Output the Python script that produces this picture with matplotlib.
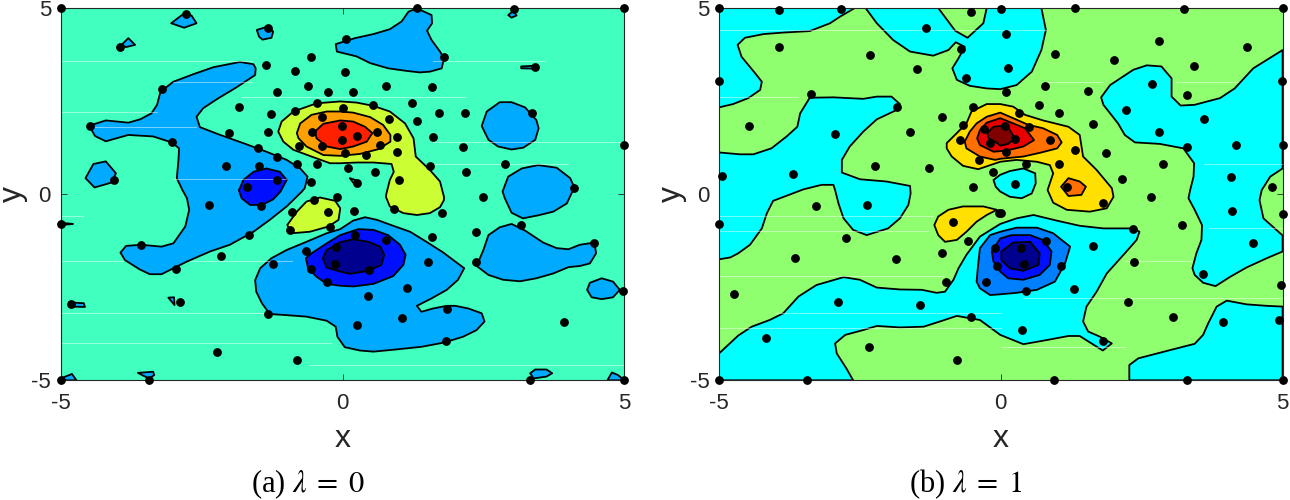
import matplotlib
matplotlib.use("Agg")
import matplotlib.pyplot as plt

# --- SETTINGS ---
plt.rcParams['font.family'] = ['Liberation Sans', 'DejaVu Sans']
plt.rcParams['mathtext.fontset'] = 'stix'
plt.rcParams['axes.unicode_minus'] = False

TICKS = [-5, 0, 5]
CAPTION_A = r"(a) $\lambda\;=\;0$"
CAPTION_B = r"(b) $\lambda\;=\;1$"

# --- PANEL (a): sample points ---
points_a = [
    (-5, 5), (-2.78, 4.84), (-1.33, 4.46), (-3.94, 3.94), (-0.56, 3.69), (-1.35, 3.47), (-0.84, 3.30),
    (-0.61, 2.91), (-1.16, 2.74), (-0.25, 2.74), (-3.20, 2.82), (-0.45, 2.44), (-1.84, 2.34), (-0.85, 2.23),
    (-1.27, 2.14), (-0.36, 2.06), (-4.48, 1.83), (-1.32, 1.66), (-2.01, 1.63), (-0.54, 1.66), (-3.03, 1.39),
    (-0.78, 1.28), (-0.36, 1.28), (-1.50, 1.23), (-1.16, 1.01), (-0.81, 0.81), (-0.45, 0.81), (-2.06, 0.75),
    (-1.49, 0.75), (-0.56, 0.32), (-1.16, 0.37), (-4.05, 0.37), (-1.69, 0.19), (-0.09, -0.07), (-0.50, -0.16),
    (-2.37, -0.28), (-1.44, -0.33), (-0.90, -0.47), (-0.25, -0.47), (-4.99, -0.80), (-0.93, -0.97),
    (-0.22, -0.88), (-1.66, -1.11), (-3.57, -1.36), (-0.11, -1.43), (-0.65, -1.54), (-2.15, -1.66),
    (-1.24, -1.87), (-0.13, -1.87), (-2.95, -2.01), (-0.56, -2.02), (-0.28, -2.36), (-2.89, -2.91),
    (-4.82, -2.96), (-1.33, -3.22), (-2.23, -4.25), (-0.80, -4.46), (-5, -5), (-3.43, -5),
    (1.32, 5), (3.05, 4.98), (5, 5), (0.06, 4.16), (1.80, 3.69), (3.42, 3.42), (0.04, 3.27), (0.78, 2.91),
    (1.58, 2.87), (0.18, 2.74), (1.23, 2.44), (0.55, 2.39), (0.01, 2.31), (1.71, 2.17), (2.17, 2.17),
    (3.36, 2.17), (0.83, 2.01), (1.32, 1.96), (-0.01, 1.83), (0.61, 1.66), (0.26, 1.57), (1.61, 1.53),
    (0.97, 1.53), (-0.01, 1.45), (0.67, 1.31), (2.14, 1.27), (5, 1.31), (0.04, 1.11), (0.97, 1.13),
    (0.41, 1.06), (1.56, 0.76), (2.88, 0.80), (0.09, 0.71), (0.58, 0.59), (2.20, 0.59), (0.26, 0.29),
    (1.00, 0.37), (4.10, 0.16), (2.50, -0.07), (0.20, -0.46), (0.92, -0.41), (1.77, -0.50), (3.17, -0.83),
    (2.36, -1.02), (0.23, -1.10), (0.78, -1.23), (1.58, -1.14), (4.47, -1.32), (1.52, -1.83), (2.36, -1.83),
    (0.47, -2.05), (1.15, -2.53), (4.98, -2.61), (0.46, -2.74), (1.85, -3.08), (1.06, -3.34), (0.26, -3.51),
    (3.93, -3.43), (1.83, -3.95), (3.33, -4.98), (5, -5),
]

# --- PANEL (a): contour regions, level by level ---
a_level1 = [
    [(-4.45, 1.86), (-4.20, 1.98), (-3.80, 1.92), (-3.59, 2.01), (-3.39, 2.17), (-3.29, 2.40), (-3.23, 2.75),
     (-3.00, 3.02), (-2.65, 3.22), (-2.29, 3.41), (-1.82, 3.55), (-1.58, 3.49), (-1.54, 3.38), (-1.55, 3.20),
     (-1.88, 2.87), (-2.23, 2.55), (-2.47, 2.31), (-2.59, 2.08), (-2.53, 1.80), (-2.17, 1.59), (-1.76, 1.37),
     (-1.35, 1.14), (-0.99, 0.92), (-0.75, 0.69), (-0.62, 0.47), (-0.67, 0.16), (-0.72, 0.07), (-0.99, -0.33),
     (-1.29, -0.69), (-1.58, -1.01), (-2.00, -1.36), (-2.35, -1.54), (-2.76, -1.81), (-3.21, -2.15),
     (-3.42, -2.15), (-3.60, -2.02), (-3.86, -1.77), (-3.94, -1.57), (-3.84, -1.39), (-3.57, -1.36),
     (-3.21, -1.41), (-3.00, -1.32), (-2.79, -0.87), (-2.72, -0.42), (-2.76, -0.11), (-2.84, 0.11),
     (-2.94, 0.43), (-2.91, 0.92), (-2.90, 1.23), (-3.03, 1.39), (-3.36, 1.55), (-3.80, 1.59), (-4.20, 1.42),
     (-4.39, 1.56), (-4.45, 1.72)],
    [(-4.56, 0.43), (-4.42, 0.81), (-4.20, 0.88), (-4.02, 0.56), (-4.10, 0.31), (-4.40, 0.18)],
    [(-3.04, 4.59), (-2.85, 4.81), (-2.68, 4.80), (-2.59, 4.59), (-2.81, 4.47)],
    [(-1.52, 4.41), (-1.33, 4.50), (-1.23, 4.37), (-1.26, 4.20), (-1.42, 4.15), (-1.48, 4.23)],
    [(-3.92, 4.01), (-3.80, 4.19), (-3.68, 4.01), (-3.84, 3.95)],
    [(-0.12, 4.03), (0.22, 4.19), (0.55, 4.30), (0.84, 4.43), (1.05, 4.64), (1.17, 4.90), (1.32, 4.99),
     (1.58, 4.81), (1.59, 4.59), (1.50, 4.39), (1.58, 4.14), (1.73, 3.83), (1.80, 3.65), (1.76, 3.38),
     (1.55, 3.29), (1.37, 3.27), (1.14, 3.31), (0.81, 3.38), (0.49, 3.52), (0.25, 3.70), (-0.10, 3.83)],
    [(2.94, 4.81), (3.03, 4.92), (3.09, 4.80), (3.00, 4.74)],
    [(3.17, 3.43), (3.42, 3.45), (3.42, 3.37), (3.17, 3.38)],
    [(2.47, 1.83), (2.56, 2.22), (2.79, 2.47), (3.00, 2.47), (3.24, 2.33), (3.44, 1.99), (3.48, 1.77),
     (3.42, 1.46), (3.21, 1.25), (3.00, 1.20), (2.76, 1.28), (2.59, 1.46)],
    [(2.84, 0.07), (2.94, 0.47), (3.18, 0.69), (3.47, 0.78), (3.80, 0.71), (4.04, 0.43), (4.12, 0.16),
     (4.07, 0.04), (3.98, -0.25), (3.74, -0.47), (3.47, -0.57), (3.20, -0.65), (3.00, -0.50), (2.88, -0.11)],
    [(2.38, -1.93), (2.50, -1.50), (2.59, -1.10), (2.79, -0.89), (3.00, -0.80), (3.24, -0.98), (3.56, -1.30),
     (3.80, -1.45), (4.01, -1.48), (4.21, -1.36), (4.47, -1.30), (4.50, -1.59), (4.39, -1.86), (4.21, -1.93),
     (4.01, -1.96), (3.74, -2.13), (3.44, -2.26), (3.15, -2.34), (2.85, -2.30), (2.59, -2.17)],
    [(4.34, -2.57), (4.39, -2.38), (4.60, -2.26), (4.80, -2.35), (4.92, -2.57), (4.80, -2.77), (4.60, -2.82),
     (4.42, -2.77)],
    [(4.70, -5), (4.78, -4.79), (4.89, -4.86), (5, -5)],
    [(3.33, -4.81), (3.42, -4.71), (3.62, -4.71), (3.72, -4.81), (3.62, -4.90), (3.39, -4.95)],
    [(-5, -5), (-5, -4.95), (-4.80, -4.83), (-4.72, -5)],
    [(-3.63, -4.80), (-3.36, -4.77), (-3.34, -4.86), (-3.43, -4.95), (-3.53, -4.88)],
    [(-3.09, -2.78), (-2.99, -2.77), (-2.98, -2.98)],
    [(-4.80, -2.91), (-4.59, -2.93), (-4.57, -3.03), (-4.82, -3.02)],
    [(-4.99, -0.77), (-4.78, -0.80), (-4.99, -0.83)],
    [(0.13, 0.43), (0.31, 0.34), (0.22, 0.25)],
    [(-0.04, -0.94), (0.19, -0.71), (0.40, -0.62), (0.61, -0.69), (0.90, -0.85), (1.20, -1.01), (1.49, -1.28),
     (1.79, -1.57), (2.00, -1.81), (2.16, -1.99), (2.05, -2.30), (1.85, -2.57), (1.58, -2.80), (1.32, -3.00),
     (1.40, -3.16), (1.61, -3.07), (1.85, -3.00), (2.00, -3.00), (2.23, -3.07), (2.47, -3.20), (2.52, -3.42),
     (2.38, -3.65), (2.14, -3.83), (1.79, -3.99), (1.40, -4.10), (0.96, -4.17), (0.55, -4.23), (0.31, -4.20),
     (0.04, -4.11), (-0.09, -3.83), (-0.12, -3.56), (-0.28, -3.40), (-0.64, -3.29), (-0.99, -3.25),
     (-1.29, -3.22), (-1.43, -2.93), (-1.53, -2.62), (-1.55, -2.31), (-1.46, -1.99), (-1.26, -1.72),
     (-0.99, -1.50), (-0.64, -1.28), (-0.28, -1.05)],
]
a_level2 = [
    [(-1.82, 0.16), (-1.76, 0.38), (-1.58, 0.60), (-1.35, 0.69), (-1.11, 0.60), (-0.99, 0.38), (-1.10, 0.07),
     (-1.23, -0.14), (-1.43, -0.29), (-1.64, -0.29), (-1.79, -0.11), (-1.84, 0.11)],
    [(-0.65, -1.72), (-0.61, -1.99), (-0.46, -2.22), (-0.28, -2.41), (-0.04, -2.46), (0.19, -2.48), (0.55, -2.41),
     (0.90, -2.20), (1.08, -1.90), (1.12, -1.63), (1.02, -1.36), (0.81, -1.10), (0.55, -0.96), (0.28, -0.94),
     (-0.04, -1.10), (-0.28, -1.32), (-0.55, -1.59)],
]
a_level3 = [
    [(-0.04, -1.29), (0.19, -1.21), (0.46, -1.28), (0.67, -1.41), (0.74, -1.63), (0.69, -1.90), (0.46, -2.06),
     (0.13, -2.14), (-0.04, -2.08), (-0.28, -1.97), (-0.35, -1.72), (-0.28, -1.50)],
]
a_level5 = [
    [(-1.14, 1.68), (-1.08, 1.95), (-0.87, 2.22), (-0.46, 2.44), (-0.04, 2.49), (0.25, 2.46), (0.55, 2.37),
     (0.84, 2.22), (1.11, 1.90), (1.26, 1.50), (1.30, 1.01), (1.55, 0.65), (1.73, 0.34), (1.80, -0.07),
     (1.80, -0.16), (1.73, -0.35), (1.55, -0.51), (1.32, -0.56), (1.08, -0.51), (0.84, -0.33), (0.77, -0.07),
     (0.78, 0.02), (0.84, 0.38), (0.91, 0.60), (0.87, 0.81), (0.55, 0.85), (0.25, 0.85), (-0.04, 0.83),
     (-0.22, 0.83), (-0.55, 1.01), (-0.87, 1.19), (-1.05, 1.41)],
    [(-0.98, -0.83), (-0.81, -0.47), (-0.64, -0.20), (-0.40, -0.09), (-0.13, -0.18), (-0.04, -0.38), (-0.07, -0.69),
     (-0.25, -0.87), (-0.58, -1.01), (-0.90, -1.05)],
]
a_level6 = [
    [(-0.81, 1.64), (-0.75, 1.90), (-0.55, 2.13), (-0.28, 2.22), (-0.04, 2.22), (0.19, 2.19), (0.49, 2.07),
     (0.72, 1.86), (0.85, 1.59), (0.85, 1.41), (0.64, 1.21), (0.31, 1.08), (-0.04, 1.03), (-0.34, 1.05),
     (-0.64, 1.28), (-0.78, 1.50)],
]
a_level7 = [
    [(-0.49, 1.68), (-0.34, 1.89), (-0.04, 1.98), (0.19, 1.95), (0.40, 1.81), (0.53, 1.64), (0.43, 1.41),
     (0.19, 1.28), (-0.04, 1.21), (-0.28, 1.28), (-0.46, 1.50)],
]
a_colors = ['#00AAFF', '#0010FF', '#00008F', '#CCFF33', '#FF9F00', '#FF2000']
a_background = '#40FFBF'
# faint white streaks in the fills: (y, x start, x end)
a_streaks = [(3.58, -5, -1.6), (3.0, -3.0, -1.6), (2.6, -1.8, 2.2), (2.2, -5, -3.3), (1.8, -4.4, -2.6), (3.58, 1.6, 3.6),
             (1.4, 1.6, 5), (0.8, 1.6, 4.0), (-0.6, -5, -4.6), (-1.8, -5, -3.9), (-3.2, -5, -1.3), (-4.0, -5, -0.2),
             (-4.6, -0.6, 5), (-1.8, -2.7, -0.9), (0.4, -3.0, -1.0)]

# --- PANEL (b): sample points ---
points_b = [
    (-5, 5), (-3.94, 4.94), (-2.83, 4.98), (-0.52, 4.89), (-1.32, 4.46), (-3.94, 3.95), (-2.32, 3.73),
    (-0.70, 3.91), (-1.49, 3.35), (-5, 3.03), (-0.62, 3.12), (-3.37, 2.69), (-1.84, 2.35), (-0.49, 2.34),
    (-1.04, 2.06), (-4.47, 1.83), (-0.67, 1.87), (-0.30, 1.76), (-2.94, 1.62), (-1.61, 1.66), (-0.72, 1.45),
    (-0.19, 1.37), (-0.38, 0.93), (-2.23, 0.75), (-1.27, 0.71), (-0.13, 0.59), (-4.95, 0.50), (-3.68, 0.53),
    (-0.49, 0.19), (0.01, 4.98), (1.32, 5), (3.25, 4.98), (5, 5), (0.10, 4.30), (2.80, 4.12), (4.36, 3.95),
    (0.96, 3.76), (2.01, 3.60), (0.13, 3.38), (3.43, 3.43), (4.99, 3.03), (2.69, 2.95), (0.78, 2.91),
    (0.10, 2.74), (1.54, 2.78), (3.31, 2.65), (0.67, 2.39), (2.23, 2.26), (0.33, 2.17), (1.04, 2.17),
    (3.60, 2.01), (1.64, 1.88), (0.07, 1.83), (0.50, 1.80), (2.80, 1.66), (0.25, 1.48), (0.87, 1.45),
    (4.17, 1.31), (5, 1.31), (3.31, 1.27), (0.10, 1.14), (1.32, 1.18), (1.87, 1.10), (2.88, 0.80),
    (1.04, 0.80), (0.44, 0.80), (4.08, 0.46), (2.15, 0.41), (0.26, 0.28), (1.18, 0.19), (4.82, 0.19),
    (2.66, -0.07), (-3.28, -0.33), (-2.37, -0.28), (-5, -0.80), (-0.84, -0.76), (-0.04, -0.50), (-2.74, -1.19),
    (-0.59, -1.27), (-1.04, -1.58), (-0.10, -1.45), (-3.65, -1.71), (-1.86, -1.75), (-0.06, -1.93),
    (-0.98, -2.36), (-0.27, -2.36), (-4.73, -2.69), (-2.88, -2.91), (-1.44, -2.97), (-0.52, -3.30),
    (-4.16, -3.86), (-2.34, -4.11), (-0.78, -4.46), (-5, -5), (-3.43, -5), (1.81, -0.24), (4.11, -0.46),
    (5, -0.54), (0.01, -0.51), (3.22, -0.84), (2.34, -0.93), (4.47, -1.32), (0.81, -1.27), (1.64, -1.40),
    (0.36, -1.44), (2.37, -1.83), (1.06, -1.93), (0.41, -1.87), (3.59, -2.14), (4.98, -2.43), (1.29, -2.56),
    (0.44, -2.61), (2.26, -2.91), (3.05, -3.30), (3.94, -3.43), (4.93, -3.39), (0.38, -3.65), (1.82, -3.95),
    (0.95, -4.99), (3.31, -4.99), (5, -5),
]

# --- PANEL (b): contour regions, level by level ---
b_cyan = [
    [(-5, 5), (-2.59, 5), (-2.85, 4.77), (-3.03, 4.59), (-3.39, 4.38), (-3.86, 4.34), (-4.21, 4.30), (-4.54, 4.20),
     (-4.67, 4.01), (-4.60, 3.69), (-4.36, 3.25), (-4.24, 3.02), (-4.27, 2.80), (-4.48, 2.58), (-4.75, 2.42),
     (-5, 2.33)],
    [(-2.40, 5), (-2.20, 4.59), (-1.91, 4.14), (-1.61, 3.83), (-1.20, 3.72), (-0.93, 3.87), (-0.80, 4.08),
     (-0.64, 3.96), (-0.75, 3.65), (-0.86, 3.38), (-0.78, 3.07), (-0.55, 2.91), (-0.25, 2.84), (-0.01, 2.82),
     (0.28, 2.93), (0.55, 3.29), (0.72, 3.87), (0.80, 4.41), (0.72, 5)],
    [(-5, 1.12), (-4.63, 1.07), (-4.39, 1.07), (-4.07, 1.23), (-3.80, 1.55), (-3.61, 1.81), (-3.56, 2.17),
     (-3.39, 2.59), (-2.97, 2.60), (-2.44, 2.56), (-2.20, 2.62), (-1.94, 2.62), (-1.79, 2.42), (-1.85, 2.26),
     (-2.20, 2.01), (-2.44, 1.68), (-2.68, 1.28), (-2.82, 0.92), (-2.82, 0.58), (-2.50, 0.40), (-2.03, 0.34),
     (-1.61, 0.22), (-1.60, 0.02), (-1.64, -0.29), (-1.79, -0.65), (-2.00, -0.92), (-2.38, -1.10), (-2.62, -0.96),
     (-2.79, -0.65), (-2.88, -0.25), (-2.94, 0.11), (-2.97, 0.25), (-3.18, 0.25), (-3.50, 0.13), (-4.04, -0.18),
     (-4.15, -0.51), (-4.24, -0.92), (-4.45, -1.36), (-4.66, -1.59), (-4.80, -1.70), (-5, -1.75)],
    [(1.78, 2.60), (1.94, 2.93), (2.35, 3.34), (2.59, 3.46), (2.85, 3.43), (3.03, 3.11), (3.03, 2.62), (3.19, 2.38),
     (3.44, 2.40), (3.89, 2.58), (4.15, 2.84), (4.48, 3.38), (5, 3.87), (5, 0.69), (4.78, 0.47), (4.63, 0.11),
     (4.59, -0.16), (4.66, -0.65), (5, -1.11), (5, -1.54), (4.72, -1.72), (4.36, -1.97), (4.07, -2.22),
     (3.81, -2.47), (3.59, -2.38), (3.44, -2.17), (3.40, -1.99), (3.47, -1.59), (3.56, -1.23), (3.57, -0.83),
     (3.44, -0.42), (3.33, -0.11), (3.36, 0.11), (3.42, 0.47), (3.43, 0.83), (3.24, 1.23), (2.82, 1.35),
     (2.38, 1.39), (2.20, 1.59), (2.08, 1.90), (1.94, 2.17), (1.82, 2.40)],
    [(2.28, -5), (2.28, -4.59), (2.44, -4.41), (3.00, -4.19), (3.44, -4.02), (3.59, -3.78), (3.68, -3.47),
     (3.83, -3.02), (4.01, -2.86), (4.36, -2.96), (4.72, -3.00), (5, -3.02), (5, -5)],
    [(-5, -4.28), (-4.66, -3.80), (-4.42, -3.56), (-4.10, -3.38), (-3.86, -3.20), (-3.59, -2.75), (-3.27, -2.44),
     (-2.79, -2.23), (-2.50, -2.30), (-2.20, -2.51), (-1.79, -2.56), (-1.40, -2.57), (-1.14, -2.65), (-0.99, -2.62),
     (-0.84, -2.30), (-0.75, -1.99), (-0.61, -1.63), (-0.37, -1.14), (-0.01, -0.80), (0.28, -0.65), (0.58, -0.56),
     (0.99, -0.71), (1.40, -0.85), (1.82, -0.92), (2.35, -0.92), (2.46, -1.01), (2.41, -1.23), (2.20, -1.59),
     (1.88, -2.13), (1.70, -2.62), (1.52, -3.02), (1.46, -3.42), (1.55, -3.69), (1.76, -3.83), (1.97, -4.01),
     (1.81, -4.20), (1.40, -3.81), (1.20, -3.81), (0.81, -3.92), (0.40, -4.03), (-0.01, -3.78), (-0.37, -3.38),
     (-0.78, -3.27), (-1.08, -3.42), (-1.37, -3.56), (-1.79, -3.58), (-2.20, -3.54), (-2.44, -3.65), (-2.76, -3.78),
     (-2.94, -4.01), (-2.91, -4.28), (-2.74, -4.68), (-2.62, -5), (-5, -5)],
    [(-0.13, 0.38), (-0.01, 0.52), (0.16, 0.62), (0.40, 0.69), (0.61, 0.56), (0.62, 0.29), (0.55, 0.02), (0.37, -0.11),
     (0.16, -0.07), (-0.01, 0.07), (-0.09, 0.20)],
]
b_wedge = [(-1.11, 5), (-0.81, 4.39), (-0.59, 4.20), (-0.31, 4.59), (-0.25, 5)]
b_yellow = [
    [(-0.96, 1.37), (-0.78, 1.64), (-0.61, 1.90), (-0.52, 2.22), (-0.25, 2.42), (-0.01, 2.42), (0.22, 2.35), (0.43, 2.13),
     (0.75, 1.98), (1.20, 1.81), (1.40, 1.59), (1.46, 1.01), (1.70, 0.65), (1.97, 0.16), (2.00, -0.07), (1.88, -0.38),
     (1.58, -0.47), (1.17, -0.42), (0.93, -0.23), (0.83, 0.11), (0.93, 0.56), (0.87, 0.78), (0.64, 0.87), (0.28, 0.92),
     (-0.01, 0.87), (-0.40, 0.67), (-0.67, 0.76), (-0.87, 1.01), (-0.96, 1.23)],
    [(-1.18, -0.83), (-1.11, -0.60), (-0.93, -0.42), (-0.67, -0.33), (-0.31, -0.33), (-0.07, -0.42), (-0.25, -0.56),
     (-0.43, -0.74), (-0.61, -1.01), (-0.78, -1.23), (-0.99, -1.28), (-1.11, -1.10)],
]
b_orange = [
    [(-0.64, 1.41), (-0.55, 1.68), (-0.43, 1.90), (-0.25, 2.08), (-0.01, 2.19), (0.22, 2.04), (0.49, 1.86), (0.75, 1.77),
     (1.00, 1.59), (1.08, 1.39), (1.00, 1.23), (0.72, 1.12), (0.40, 1.01), (-0.01, 0.95), (-0.10, 0.92), (-0.37, 1.01),
     (-0.61, 1.23)],
    [(1.07, 0.20), (1.20, 0.43), (1.40, 0.34), (1.51, 0.20), (1.43, -0.02), (1.20, -0.05)],
]
b_red = [
    [(-0.42, 1.50), (-0.37, 1.72), (-0.25, 1.92), (-0.01, 2.04), (0.22, 1.90), (0.43, 1.77), (0.59, 1.45), (0.40, 1.28),
     (0.10, 1.17), (-0.13, 1.14), (-0.37, 1.32)],
]
b_darkred = [
    [(-0.24, 1.64), (-0.13, 1.81), (-0.01, 1.83), (0.13, 1.79), (0.25, 1.50), (0.13, 1.35), (-0.01, 1.30), (-0.10, 1.41),
     (-0.22, 1.50)],
]
b_blue1 = [
    [(-0.43, -2.35), (-0.40, -1.86), (-0.37, -1.45), (-0.19, -1.10), (-0.01, -1.01), (0.28, -0.90), (0.64, -0.90),
     (0.93, -1.05), (1.23, -1.41), (1.14, -1.86), (0.96, -2.35), (0.64, -2.57), (0.28, -2.65), (-0.01, -2.69),
     (-0.19, -2.71), (-0.37, -2.53)],
]
b_blue2 = [
    [(-0.01, -1.19), (0.19, -1.10), (0.52, -1.10), (0.75, -1.23), (0.90, -1.54), (0.87, -1.90), (0.69, -2.17), (0.40, -2.30),
     (0.13, -2.26), (-0.01, -2.08), (-0.13, -1.81), (-0.16, -1.54)],
]
b_blue3 = [
    [(0.01, -1.54), (0.22, -1.30), (0.52, -1.28), (0.69, -1.59), (0.67, -1.90), (0.40, -2.06), (0.16, -1.99), (0.01, -1.77)],
]
b_background = '#8FFF70'
b_streaks = [(4.4, -5, 0.8), (3.0, 0.8, 1.8), (3.0, 3.1, 4.2), (0.8, 3.6, 5), (-2.8, 0.4, 5), (-0.6, -5, -1.2),
             (-1.0, -5, -1.3), (-3.6, -5, 0), (2.6, -5, -3.6), (-2.2, -5, -1.0), (-3.2, -4.0, 0.0), (-0.9, 3.7, 5),
             (-4.1, 0.0, 2.2), (-1.8, 2.2, 3.4)]


def draw_regions(ax, regions, color):
    for region in regions:
        xs, ys = zip(*region)
        ax.fill(xs, ys, facecolor=color, edgecolor='black', linewidth=1.3, joinstyle='round', zorder=2)


def finish_panel(ax, points, streaks):
    for y, x0, x1 in streaks:
        ax.plot([x0, x1], [y, y], color='white', linewidth=0.6, alpha=0.55, zorder=2.5)
    xs, ys = zip(*points)
    ax.plot(xs, ys, 'o', color='black', markersize=5.3, clip_on=False, zorder=5)
    ax.set_xlim(-5, 5)
    ax.set_ylim(-5, 5)
    ax.set_xticks(TICKS)
    ax.set_yticks(TICKS)
    ax.tick_params(direction='in', length=4.5, width=0.6, labelsize=16, top=True, right=True,
                   color='#262626', labelcolor='#262626')
    ax.tick_params(axis='x', pad=9)
    ax.tick_params(axis='y', pad=7)
    ax.set_xlabel("x", fontsize=23, color='#262626', labelpad=7)
    ax.set_ylabel("y", fontsize=23, color='#262626', labelpad=2)
    for spine in ax.spines.values():
        spine.set_linewidth(0.8)
        spine.set_color('#262626')


fig = plt.figure(figsize=(12.9, 5), dpi=100)
ax_a = fig.add_axes([60.7 / 1290, 1 - 380.3 / 500, 563.6 / 1290, 372.3 / 500])
ax_b = fig.add_axes([719 / 1290, 1 - 380.3 / 500, 563.6 / 1290, 372.3 / 500])

ax_a.set_facecolor(a_background)
for regions, color in zip([a_level1, a_level2, a_level3, a_level5, a_level6, a_level7], a_colors):
    draw_regions(ax_a, regions, color)
finish_panel(ax_a, points_a, a_streaks)

ax_b.set_facecolor(b_background)
draw_regions(ax_b, b_cyan, '#00FFFF')
draw_regions(ax_b, [b_wedge], b_background)
draw_regions(ax_b, b_yellow, '#FFE000')
draw_regions(ax_b, b_orange, '#FF7000')
draw_regions(ax_b, b_red, '#E80000')
draw_regions(ax_b, b_darkred, '#800000')
draw_regions(ax_b, b_blue1, '#0080FF')
draw_regions(ax_b, b_blue2, '#0010FF')
draw_regions(ax_b, b_blue3, '#00008F')
finish_panel(ax_b, points_b, b_streaks)

fig.text(308 / 1290, 1 - 484 / 500, CAPTION_A, ha='center', va='center', family='Liberation Serif', fontsize=22, color='black')
fig.text(966 / 1290, 1 - 484 / 500, CAPTION_B, ha='center', va='center', family='Liberation Serif', fontsize=22, color='black')

fig.savefig("out.png", dpi=100)
